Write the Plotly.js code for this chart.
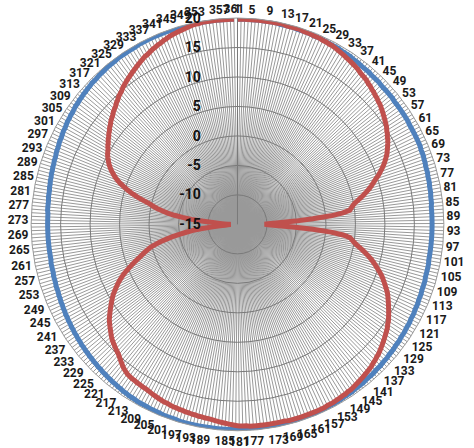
<!DOCTYPE html>
<html><head><meta charset="utf-8">
<script src="https://cdn.plot.ly/plotly-3.0.1.min.js"></script>
<style>html,body{margin:0;padding:0;background:#fff}#chart{width:474px;height:448px}</style>
</head><body><div id="chart"></div>
<script>
// 361 categories (1..361), labelled every 4th
const categories = Array.from({length:361}, (_, i) => String(i + 1));
const tickLabels = categories.map((c, i) => (i % 4 === 0 ? c : ''));
const radialTicks = [-15, -10, -5, 0, 5, 10, 15, 20];
const radialLabels = ['-15', '-10', '-5', '0', '5', '10', '15', '20'];

const blueValues = [
19.8,19.8,19.8,19.8,19.8,19.8,19.8,19.8,19.8,19.8,
19.8,19.8,19.7,19.7,19.7,19.7,19.7,19.6,19.6,19.6,
19.6,19.6,19.5,19.5,19.5,19.5,19.4,19.4,19.4,19.4,
19.4,19.3,19.3,19.3,19.3,19.2,19.2,19.2,19.1,19.1,
19.1,19.1,19.0,19.0,19.0,19.0,18.9,18.9,18.9,18.9,
18.9,18.9,18.8,18.8,18.8,18.8,18.8,18.8,18.8,18.8,
18.7,18.7,18.7,18.7,18.7,18.7,18.7,18.7,18.6,18.6,
18.6,18.5,18.5,18.4,18.4,18.4,18.3,18.3,18.3,18.2,
18.2,18.2,18.1,18.1,18.1,18.0,18.0,18.0,18.0,18.0,
18.0,18.0,18.0,18.0,18.0,18.0,18.0,18.0,18.0,18.0,
18.0,18.0,18.1,18.1,18.1,18.1,18.1,18.2,18.2,18.2,
18.2,18.3,18.3,18.3,18.4,18.4,18.4,18.5,18.5,18.5,
18.6,18.6,18.6,18.7,18.7,18.7,18.8,18.8,18.8,18.9,
18.9,18.9,19.0,19.0,19.0,19.1,19.1,19.1,19.2,19.2,
19.2,19.2,19.3,19.3,19.3,19.3,19.4,19.4,19.4,19.4,
19.5,19.5,19.5,19.5,19.5,19.6,19.6,19.6,19.6,19.6,
19.7,19.7,19.7,19.7,19.7,19.7,19.7,19.8,19.8,19.8,
19.8,19.8,19.8,19.8,19.8,19.8,19.8,19.8,19.8,19.8,
19.8,19.8,19.8,19.8,19.8,19.8,19.8,19.8,19.8,19.8,
19.8,19.8,19.8,19.8,19.8,19.8,19.8,19.8,19.7,19.7,
19.7,19.7,19.7,19.6,19.6,19.6,19.6,19.5,19.5,19.5,
19.5,19.4,19.4,19.4,19.3,19.3,19.2,19.2,19.1,19.1,
19.0,19.0,18.9,18.9,18.8,18.8,18.7,18.7,18.6,18.6,
18.5,18.5,18.4,18.4,18.3,18.3,18.2,18.2,18.1,18.1,
18.0,18.0,17.9,17.9,17.8,17.8,17.7,17.7,17.6,17.6,
17.5,17.5,17.5,17.4,17.4,17.4,17.3,17.3,17.3,17.3,
17.2,17.2,17.2,17.2,17.2,17.2,17.2,17.2,17.2,17.2,
17.2,17.2,17.2,17.2,17.2,17.3,17.3,17.3,17.3,17.4,
17.4,17.4,17.5,17.5,17.6,17.6,17.7,17.7,17.8,17.8,
17.9,17.9,18.0,18.1,18.1,18.2,18.3,18.3,18.4,18.5,
18.5,18.6,18.7,18.7,18.8,18.8,18.9,19.0,19.0,19.1,
19.1,19.2,19.2,19.3,19.3,19.4,19.4,19.4,19.5,19.5,
19.5,19.6,19.6,19.6,19.6,19.7,19.7,19.7,19.7,19.7,
19.7,19.7,19.8,19.8,19.8,19.8,19.8,19.8,19.8,19.8,
19.8,19.8,19.8,19.8,19.8,19.8,19.8,19.8,19.8,19.8,
19.8,19.8,19.8,19.8,19.8,19.8,19.8,19.8,19.8,19.8,19.8
];

const redValues = [
19.8,19.8,19.8,19.8,19.8,19.8,19.8,19.8,19.8,19.8,
19.8,19.8,19.8,19.8,19.7,19.7,19.7,19.7,19.7,19.6,
19.6,19.6,19.5,19.5,19.5,19.4,19.4,19.3,19.3,19.2,
19.1,19.0,18.9,18.8,18.7,18.6,18.5,18.4,18.3,18.1,
18.0,17.9,17.8,17.6,17.5,17.3,17.2,17.0,16.9,16.7,
16.6,16.4,16.2,16.0,15.8,15.6,15.4,15.2,14.9,14.7,
14.4,14.2,13.9,13.6,13.3,13.0,12.6,12.2,11.8,11.3,
10.8,10.3,9.7,9.2,8.7,8.2,7.6,7.0,6.4,5.8,
5.2,4.8,4.5,4.2,3.0,0.9,-2.2,-5.2,-8.0,-9.8,
-10.4,-9.8,-8.0,-5.2,-2.2,0.9,3.0,4.2,4.6,5.0,
5.5,6.1,6.7,7.3,7.9,8.5,9.0,9.5,10.0,10.5,
11.0,11.4,11.8,12.2,12.6,13.0,13.3,13.6,13.9,14.2,
14.5,14.8,15.1,15.4,15.6,15.9,16.1,16.3,16.5,16.7,
16.9,17.1,17.3,17.5,17.6,17.8,17.9,18.1,18.2,18.3,
18.4,18.5,18.6,18.7,18.8,18.9,19.0,19.0,19.1,19.1,
19.2,19.2,19.3,19.3,19.3,19.4,19.4,19.4,19.4,19.4,
19.4,19.4,19.4,19.4,19.4,19.4,19.4,19.3,19.3,19.3,
19.3,19.3,19.3,19.3,19.3,19.3,19.3,19.3,19.2,19.2,
19.2,19.1,19.0,18.9,18.8,18.7,18.6,18.5,18.4,18.3,
18.3,18.2,18.2,18.1,18.1,18.0,18.0,17.9,17.9,17.8,
17.8,17.7,17.6,17.6,17.5,17.4,17.3,17.2,17.1,17.0,
16.9,16.9,16.8,16.8,16.7,16.7,16.6,16.5,16.3,16.1,
15.8,15.5,15.2,14.9,14.7,14.5,14.3,14.1,13.9,13.6,
13.3,13.0,12.7,12.4,12.1,11.7,11.3,10.9,10.5,10.1,
9.7,9.3,8.8,8.3,7.8,7.3,6.7,6.1,5.4,4.7,
4.0,3.3,2.6,2.0,1.4,0.8,0.2,-0.7,-1.6,-2.7,
-3.8,-5.0,-6.2,-7.4,-9.0,-10.8,-12.0,-12.9,-13.4,-13.7,
-13.8,-13.7,-13.4,-12.8,-12.0,-10.8,-9.2,-7.2,-5.6,-4.2,
-3.0,-2.0,-1.1,-0.3,0.3,1.4,2.5,3.5,4.4,5.2,
6.0,6.7,7.3,7.8,8.3,8.7,9.1,9.4,9.7,10.0,
10.2,10.4,10.7,10.9,11.2,11.4,11.7,11.9,12.2,12.4,
12.7,12.9,13.1,13.4,13.6,13.8,14.1,14.3,14.6,14.8,
15.0,15.3,15.5,15.7,15.9,16.1,16.3,16.5,16.7,16.9,
17.1,17.3,17.5,17.6,17.8,18.0,18.1,18.3,18.4,18.6,
18.7,18.9,19.0,19.1,19.2,19.3,19.4,19.5,19.6,19.7,
19.7,19.8,19.8,19.8,19.8,19.8,19.8,19.8,19.8,19.8,19.8
];

// pad labels on the right so they sit to the left of the axis line (Excel style)
const pad = '\u00a0\u00a0\u00a0\u00a0\u00a0\u00a0\u00a0\u00a0\u00a0';

const traces = [
  {type:'scatterpolar', mode:'lines', theta:categories, r:blueValues,
   line:{color:'#4F81BD', width:5}, hoverinfo:'skip'},
  {type:'scatterpolar', mode:'lines', theta:categories, r:redValues,
   line:{color:'#C0504D', width:5}, hoverinfo:'skip'}
];

const layout = {
  width:474, height:448,
  margin:{l:0, r:0, t:0, b:0},
  paper_bgcolor:'#ffffff',
  showlegend:false,
  polar:{
    domain:{x:[0.0654, 0.9367], y:[0.0385, 0.9598]},
    bgcolor:'#ffffff',
    angularaxis:{
      type:'category', categoryorder:'array', categoryarray:categories,
      direction:'clockwise', rotation:90,
      tickmode:'array', tickvals:categories, ticktext:tickLabels,
      showgrid:true, gridcolor:'#999999', gridwidth:1,
      showline:true, linecolor:'#999999', linewidth:1,
      ticks:'',
      tickfont:{family:'Roboto, Arial, sans-serif', size:12, color:'#1a1a1a', weight:'bold'}
    },
    radialaxis:{
      range:[-15, 20], angle:90, side:'counterclockwise',
      tickmode:'array', tickvals:radialTicks, ticktext:radialLabels.map(t => t + pad),
      showgrid:true, gridcolor:'#7a7a7a', gridwidth:1,
      showline:true, linecolor:'#7a7a7a', linewidth:1,
      ticks:'', tickangle:90,
      tickfont:{family:'Roboto, Arial, sans-serif', size:14, color:'#111', weight:'bold'}
    }
  }
};

Plotly.newPlot('chart', traces, layout, {displayModeBar:false, staticPlot:true});
</script>
</body></html>
